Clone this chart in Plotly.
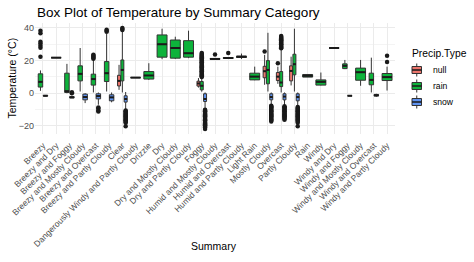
import plotly.graph_objects as go

categories = ["Breezy", "Breezy and Dry", "Breezy and Foggy", "Breezy and Mostly Cloudy",
              "Breezy and Overcast", "Breezy and Partly Cloudy", "Clear",
              "Dangerously Windy and Partly Cloudy", "Drizzle", "Dry", "Dry and Mostly Cloudy",
              "Dry and Partly Cloudy", "Foggy", "Humid and Mostly Cloudy", "Humid and Overcast",
              "Humid and Partly Cloudy", "Light Rain", "Mostly Cloudy", "Overcast", "Partly Cloudy",
              "Rain", "Windy", "Windy and Dry", "Windy and Foggy", "Windy and Mostly Cloudy",
              "Windy and Overcast", "Windy and Partly Cloudy"]

groups = ["null", "rain", "snow"]
colors = {"null": "#EC756C", "rain": "#0DB33B", "snow": "#5F93F0"}

# ---- null ----
null_cats = ["Clear", "Foggy", "Mostly Cloudy", "Overcast", "Partly Cloudy"]
null_lo = [2.1, 3.5, 5.2, 5.8, 4.8]
null_q1 = [4.5, 4.4, 9.5, 7.8, 7.6]
null_med = [7.6, 6.0, 13.5, 10.2, 13.7]
null_q3 = [11.0, 7.4, 16.5, 12.7, 16.8]
null_hi = [17.4, 9.3, 23.5, 16.3, 22.4]

# ---- rain ----
rain_cats = list(categories)
rain_lo = [1.5, 21.8, 0.0, 1.1, 0.5, 1.1, 0.5, 9.6, 8.2, 20.9, 21.0, 21.5, 1.0, 20.7, 21.3,
           21.0, 8.0, 1.1, 0.5, 1.1, 9.9, 4.8, 27.7, 14.8, 4.6, 0.5, 1.7]
rain_q1 = [3.8, 21.8, 0.5, 7.6, 5.0, 7.2, 7.6, 9.6, 8.7, 22.1, 21.5, 22.1, 2.1, 20.8, 21.4,
           21.9, 8.2, 5.8, 4.1, 11.3, 9.9, 5.0, 27.7, 15.1, 8.0, 5.2, 7.8]
rain_med = [7.0, 21.8, 1.3, 11.9, 8.7, 12.3, 14.3, 9.6, 10.9, 30.0, 27.7, 24.5, 4.6, 21.0, 21.6,
            22.4, 10.2, 14.3, 6.6, 17.8, 10.7, 7.0, 27.7, 16.8, 12.9, 8.2, 9.9]
rain_q3 = [11.9, 21.8, 12.3, 16.8, 11.7, 19.4, 20.4, 9.6, 13.3, 35.7, 32.6, 32.2, 7.2, 21.3, 21.8,
           22.7, 12.3, 20.0, 13.3, 23.9, 11.5, 8.2, 27.7, 18.0, 15.4, 12.3, 12.1]
rain_hi = [14.0, 21.8, 18.0, 27.7, 20.4, 36.3, 38.0, 9.6, 18.4, 39.5, 34.6, 38.3, 9.5, 21.5, 22.0,
           24.3, 16.3, 37.0, 27.0, 39.5, 11.5, 12.7, 27.7, 20.4, 20.4, 21.8, 16.3]

# ---- snow ----
snow_cats = ["Breezy", "Breezy and Foggy", "Breezy and Mostly Cloudy", "Breezy and Overcast",
             "Breezy and Partly Cloudy", "Clear", "Foggy", "Mostly Cloudy", "Overcast",
             "Partly Cloudy", "Windy and Foggy", "Windy and Overcast"]
snow_lo = [-1.8, -2.9, -6.0, -7.0, -5.5, -10.0, -9.6, -7.0, -7.6, -7.6, -1.5, -2.2]
snow_q1 = [-1.7, -2.8, -4.0, -3.4, -4.6, -5.4, -5.0, -4.0, -4.0, -4.6, -1.5, -1.7]
snow_med = [-1.5, -2.5, -2.3, -1.7, -2.5, -3.5, -3.5, -2.3, -2.0, -2.3, -1.5, -1.2]
snow_q3 = [-1.3, -2.0, -0.5, -0.3, -0.9, -1.5, -0.3, -0.3, -0.3, -0.3, -1.5, -0.7]
snow_hi = [-1.2, -1.5, 0.1, 0.5, 0.5, 0.8, 0.5, 0.5, 0.5, 0.5, -1.5, -0.3]

# ---- outliers: (group, category, values) ----
outliers = [
    ("rain", "Breezy", [38.3, 36.7, 31.6, 30.4, 29.1, 27.9, 22.4]),
    ("snow", "Breezy and Foggy", [0.0, 0.6]),
    ("rain", "Breezy and Overcast", [21.2, 21.8, 22.4, 23.0, 23.6]),
    ("snow", "Breezy and Overcast", [-8.7, -9.3, -10.5, -11.2]),
    ("rain", "Breezy and Partly Cloudy", [37.7, 38.3, 38.9]),
    ("rain", "Clear", [38.7, 39.3, 39.9]),
    ("snow", "Clear", [-10.5, -11.0, -11.5, -12.0, -12.5, -13.0, -13.5, -14.0, -14.5, -15.0,
                       -15.5, -16.0, -16.5, -17.0, -17.5, -18.0, -20.2]),
    ("rain", "Foggy", [10.0, 10.5, 11.0, 11.5, 12.0, 12.5, 13.0, 13.5, 14.0, 14.5, 15.0, 15.5,
                       16.0, 16.5, 17.0, 17.5, 18.0, 18.5, 19.0, 19.5, 20.0, 20.5, 21.0, 21.5,
                       22.0, 22.5, 23.0, 23.5, 24.0, 24.7]),
    ("snow", "Foggy", [-10.0, -10.5, -11.0, -11.5, -12.0, -12.5, -13.0, -13.5, -14.0, -14.5,
                       -15.0, -15.5, -16.0, -16.5, -17.0, -17.5, -18.0, -18.5, -19.0, -19.5,
                       -20.0, -20.5, -21.0, -21.8]),
    ("rain", "Humid and Mostly Cloudy", [23.7]),
    ("rain", "Humid and Overcast", [24.7]),
    ("null", "Mostly Cloudy", [25.5]),
    ("snow", "Mostly Cloudy", [-7.6, -8.0, -8.5, -9.0, -9.5, -10.0, -10.5, -11.0, -11.5, -12.0,
                               -12.5, -13.0, -13.5, -14.0, -14.5, -15.0, -15.5, -16.0, -16.5,
                               -17.2]),
    ("null", "Overcast", [18.4]),
    ("rain", "Overcast", [27.5, 28.0, 28.5, 29.0, 29.5, 30.0, 30.5, 31.0, 31.5, 32.0, 32.5,
                          33.0, 33.5, 34.0, 34.5, 35.0]),
    ("snow", "Overcast", [-8.0, -8.5, -9.0, -9.5, -10.0, -10.5, -11.0, -11.5, -12.0, -12.5,
                          -13.0, -13.5, -14.0, -14.5, -15.0, -15.5, -16.2]),
    ("snow", "Partly Cloudy", [-8.4, -9.0, -9.5, -10.0, -10.5, -11.0, -11.5, -12.0, -12.5,
                               -13.0, -13.5, -14.0, -14.5, -15.0, -15.5, -16.0, -16.5, -17.2,
                               -18.0, -20.2]),
    ("rain", "Windy and Partly Cloudy", [19.2, 23.0]),
]

stats = {
    "null": (null_cats, null_lo, null_q1, null_med, null_q3, null_hi),
    "rain": (rain_cats, rain_lo, rain_q1, rain_med, rain_q3, rain_hi),
    "snow": (snow_cats, snow_lo, snow_q1, snow_med, snow_q3, snow_hi),
}

# dodge2-like placement
BOXW = 0.75
present = {c: [g for g in groups if c in stats[g][0]] for c in categories}


def place(cat, grp):
    gs = present[cat]
    n = len(gs)
    k = gs.index(grp)
    slot = BOXW / n
    center = categories.index(cat) - BOXW / 2 + slot * (k + 0.5)
    width = slot * 0.9 if n > 1 else BOXW
    return center, width


fig = go.Figure()
med_x, med_y = [], []
for g in groups:
    cats, lo, q1, med, q3, hi = stats[g]
    for i, c in enumerate(cats):
        xc, w = place(c, g)
        fig.add_trace(go.Box(
            x=[xc], q1=[q1[i]], median=[med[i]], q3=[q3[i]],
            lowerfence=[lo[i]], upperfence=[hi[i]],
            width=w, whiskerwidth=0, boxpoints=False,
            fillcolor=colors[g], line=dict(color="#333333", width=1),
            name=g, showlegend=False,
        ))
        med_x += [xc - w / 2, xc + w / 2, None]
        med_y += [med[i], med[i], None]

fig.add_trace(go.Scatter(x=med_x, y=med_y, mode="lines",
                         line=dict(color="#1a1a1a", width=2), showlegend=False,
                         hoverinfo="skip"))

ox, oy = [], []
for g, c, vals in outliers:
    xc, w = place(c, g)
    ox += [xc] * len(vals)
    oy += vals
fig.add_trace(go.Scatter(x=ox, y=oy, mode="markers",
                         marker=dict(color="#1a1a1a", size=4.5), showlegend=False,
                         hoverinfo="skip"))

W, H = 474, 262
L, R, T, B = 35, 79, 23, 128
PW, PH = W - L - R, H - T - B


def px(xp):
    return (xp - L) / PW


def py(yp):
    return (H - B - yp) / PH


# legend drawn in ggplot style (title + box keys)
shapes, annotations = [], []
annotations.append(dict(text="Precip.Type", x=px(410), y=py(53.5), xref="paper", yref="paper",
                        showarrow=False, xanchor="left", yanchor="middle",
                        font=dict(size=10.3, color="black")))
for k, g in enumerate(groups):
    yc = 70 + 16 * k
    kx0, kx1 = 412, 421.5
    kc = (kx0 + kx1) / 2
    shapes.append(dict(type="line", xref="paper", yref="paper", x0=px(kc), x1=px(kc),
                       y0=py(yc - 6.5), y1=py(yc + 6.5), line=dict(color="#333333", width=1)))
    shapes.append(dict(type="rect", xref="paper", yref="paper", x0=px(kx0), x1=px(kx1),
                       y0=py(yc - 3.5), y1=py(yc + 3.5), fillcolor=colors[g],
                       line=dict(color="#333333", width=1)))
    shapes.append(dict(type="line", xref="paper", yref="paper", x0=px(kx0), x1=px(kx1),
                       y0=py(yc), y1=py(yc), line=dict(color="#1a1a1a", width=1.5)))
    annotations.append(dict(text=g, x=px(431), y=py(yc), xref="paper", yref="paper",
                            showarrow=False, xanchor="left", yanchor="middle",
                            font=dict(size=8.6, color="black")))

annotations.append(dict(text="Temperature (°C)", textangle=-90, x=px(11), y=0.5, xref="paper",
                        yref="paper", showarrow=False, font=dict(size=10.5, color="black"),
                        xanchor="center", yanchor="middle"))
annotations.append(dict(text="Summary", x=px(214), y=py(246), xref="paper", yref="paper",
                        showarrow=False, font=dict(size=10.5, color="black"),
                        xanchor="center", yanchor="middle"))

fig.update_layout(
    width=W, height=H,
    margin=dict(l=L, r=R, t=T, b=B),
    paper_bgcolor="white", plot_bgcolor="white",
    font=dict(family="Liberation Sans, Arial, sans-serif", color="#4D4D4D"),
    title=dict(text="Box Plot of Temperature by Summary Category", x=37 / W, xanchor="left",
               y=1 - 12 / H, yanchor="middle", xref="container", yref="container",
               font=dict(size=13.5, color="black")),
    xaxis=dict(range=[-0.6, 26.6], tickvals=list(range(len(categories))), ticktext=categories,
               tickangle=-45, showgrid=True, gridcolor="#EBEBEB", gridwidth=1, zeroline=False,
               showline=False, ticks="", ticklabelstandoff=4, automargin=False,
               tickfont=dict(size=8.5, color="#4D4D4D")),
    yaxis=dict(range=[-24.9, 43], tickvals=[-20, 0, 20, 40], showgrid=True, gridcolor="#EBEBEB",
               gridwidth=1, zeroline=False, showline=False, ticks="", automargin=False,
               tickfont=dict(size=9, color="#4D4D4D"),
               minor=dict(tickvals=[-10, 10, 30], showgrid=True, gridcolor="#F4F4F4",
                          gridwidth=0.6)),
    showlegend=False,
    shapes=shapes,
    annotations=annotations,
)

fig.write_html("out.html")
